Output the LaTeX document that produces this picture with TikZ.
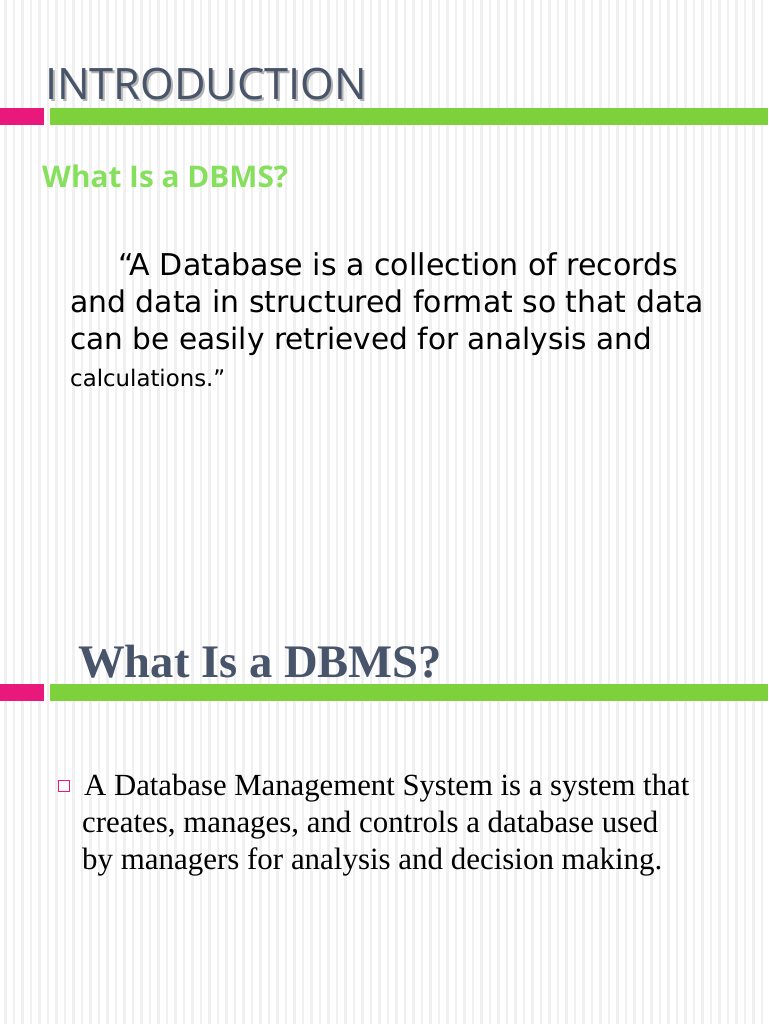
\documentclass[tikz,border=0pt]{standalone}
\usepackage{fontspec}
\usepackage{graphicx}
\setmainfont{Liberation Serif}
\newfontfamily\quotefont{DejaVu Sans}
\newfontfamily\headfont{Open Sans}
\definecolor{slate}{HTML}{48546A}
\definecolor{pinkbar}{HTML}{E8197A}
\definecolor{greenbar}{HTML}{7DD23C}
\definecolor{lightgreen}{HTML}{86E05E}
\definecolor{stripe}{HTML}{F0F0F0}
\tikzset{
  txt/.style={anchor=base west, inner sep=0pt},
  pinkb/.style={fill=pinkbar, draw=none},
  greenb/.style={fill=greenbar, draw=none}
}
\newcommand{\fitw}[2]{\resizebox{#1pt}{!}{#2}}
\begin{document}
\begin{tikzpicture}[x=1pt,y=-1pt]
\useasboundingbox (0,0) rectangle (768,1024);
\fill[white] (0,0) rectangle (768,1024);
\foreach \i in {0,...,90} {
  \fill[stripe] (4+\i*8.5,0) rectangle (6.5+\i*8.5,1024);
}
% Slide 1
\node[txt, text=gray!60] (shadow1) at (47,102) {\fitw{322}{\headfont INTRODUCTION}};
\node[txt, text=slate] (title1) at (45,100) {\fitw{322}{\headfont INTRODUCTION}};
\fill[pinkb] (0,108) rectangle (44,125);
\fill[greenb] (50,108) rectangle (768,125);
\node[txt, text=lightgreen] (sub1) at (42,188) {\fitw{246}{\headfont\bfseries What Is a DBMS?}};
\node[txt] (q1) at (118,275) {\fitw{560}{\quotefont “A Database is a collection of records}};
\node[txt] (q2) at (70,312) {\fitw{633}{\quotefont and data in structured format so that data}};
\node[txt] (q3) at (70,349) {\fitw{582}{\quotefont can be easily retrieved for analysis and}};
\node[txt] (q4) at (70,386) {\fitw{155}{\quotefont calculations.”}};
% Slide 2
\node[txt, text=slate] (title2) at (78,677) {\fitw{364}{\bfseries What Is a DBMS?}};
\fill[pinkb] (0,684) rectangle (44,701);
\fill[greenb] (50,684) rectangle (768,701);
\draw[pinkbar, line width=1.6pt, fill=white] (58.5,780.5) rectangle (69.5,791.5);
\node[txt] (b1) at (84,795) {\fitw{605}{A Database Management System is a system that}};
\node[txt] (b2) at (82,832) {\fitw{576}{creates, manages, and controls a database used}};
\node[txt] (b3) at (82,869) {\fitw{580}{by managers for analysis and decision making.}};
\end{tikzpicture}
\end{document}
